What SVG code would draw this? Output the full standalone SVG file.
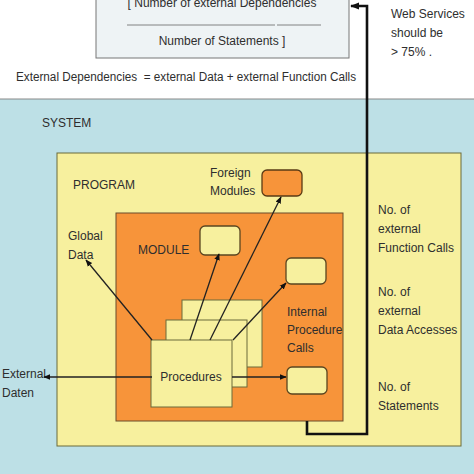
<svg xmlns="http://www.w3.org/2000/svg" width="474" height="474" viewBox="0 0 474 474">
<style>
text{font-family:"Liberation Sans",Arial,sans-serif;font-size:12px;fill:#2e2e2e}
.yel{fill:#f7f09e;stroke:#6b6a3a;stroke-width:1}
.org{fill:#f7943a;stroke:#6b4a2a;stroke-width:1}
.ybox{fill:#f7f09e;stroke:#5a4520;stroke-width:1.3}
.ln{stroke:#222;stroke-width:1.3;fill:none;marker-end:url(#ah)}
</style>
<defs>
<marker id="ah" viewBox="0 0 10 10" refX="9" refY="5" markerWidth="7" markerHeight="7" orient="auto" markerUnits="userSpaceOnUse"><path d="M0,1 L10,5 L0,9 z" fill="#111"/></marker>
<marker id="ahb" viewBox="0 0 10 10" refX="9" refY="5" markerWidth="9" markerHeight="9" orient="auto" markerUnits="userSpaceOnUse"><path d="M0,1 L10,5 L0,9 z" fill="#111"/></marker>
</defs>
<rect x="0" y="0" width="474" height="99" fill="#fff"/>
<rect x="0" y="99" width="474" height="375" fill="#bde0e6"/>
<line x1="0" y1="99" x2="474" y2="99" stroke="#888" stroke-width="1"/>
<g id="formula">
<rect x="96" y="-10" width="253" height="68" fill="#eef3f5" stroke="#777" stroke-width="1"/>
<text x="222" y="7" text-anchor="middle">[ Number of external Dependencies</text>
<line x1="127" y1="25" x2="275" y2="25" stroke="#666" stroke-width="0.8"/>
<line x1="277" y1="25" x2="321" y2="25" stroke="#666" stroke-width="0.8"/>
<text x="222" y="45" text-anchor="middle">Number of Statements ]</text>
</g>
<g id="note">
<text x="391" y="18">Web Services</text>
<text x="391" y="37">should be</text>
<text x="391" y="56">&gt; 75% .</text>
</g>
<text x="16" y="81" textLength="340" lengthAdjust="spacingAndGlyphs">External Dependencies &#160;= external Data + external Function Calls</text>
<text x="42" y="127">SYSTEM</text>
<g id="program">
<rect class="yel" x="57" y="153" width="404" height="293"/>
<text x="73" y="189">PROGRAM</text>
</g>
<g id="foreign">
<text x="210" y="177">Foreign</text>
<text x="210" y="195">Modules</text>
<rect x="262" y="170" width="40" height="26" rx="5" fill="#f7943a" stroke="#5a3a15" stroke-width="1.3"/>
</g>
<g id="global"><text x="68" y="240">Global</text><text x="68" y="259">Data</text></g>
<g id="module">
<rect class="org" x="116" y="213" width="227" height="208"/>
<text x="138" y="254">MODULE</text>
</g>
<g id="box1"><rect class="ybox" x="200" y="226" width="40" height="29" rx="5"/></g>
<g id="box2"><rect class="ybox" x="286" y="258" width="40" height="26" rx="5"/></g>
<g id="box3"><rect class="ybox" x="287" y="367" width="40" height="27" rx="5"/></g>
<g id="ipc">
<text x="287" y="316">Internal</text>
<text x="287" y="334">Procedure</text>
<text x="287" y="352">Calls</text>
</g>
<g id="procedures">
<rect class="yel" x="182" y="300" width="80" height="67"/>
<rect class="yel" x="166" y="320" width="81" height="67"/>
<rect class="yel" x="151" y="340" width="81" height="67"/>
<text x="191" y="381" text-anchor="middle">Procedures</text>
</g>
<g id="external"><text x="2" y="378">External</text><text x="2" y="397">Daten</text></g>
<g id="counts">
<text x="378" y="214">No. of</text>
<text x="378" y="233">external</text>
<text x="378" y="252">Function Calls</text>
<text x="378" y="296">No. of</text>
<text x="378" y="315">external</text>
<text x="378" y="334">Data Accesses</text>
<text x="378" y="391">No. of</text>
<text x="378" y="410">Statements</text>
</g>
<g id="connectors">
<line class="ln" x1="152" y1="340" x2="86" y2="260"/>
<line class="ln" x1="190" y1="340" x2="219" y2="254"/>
<line class="ln" x1="210" y1="340" x2="281" y2="197"/>
<line class="ln" x1="233" y1="340" x2="286" y2="283"/>
<line class="ln" x1="232" y1="377" x2="286" y2="377"/>
<line class="ln" x1="152" y1="377" x2="44" y2="377"/>
<path d="M307,421 V434 H367 V6 H351" fill="none" stroke="#111" stroke-width="2.6" marker-end="url(#ahb)"/>
</g>
</svg>
